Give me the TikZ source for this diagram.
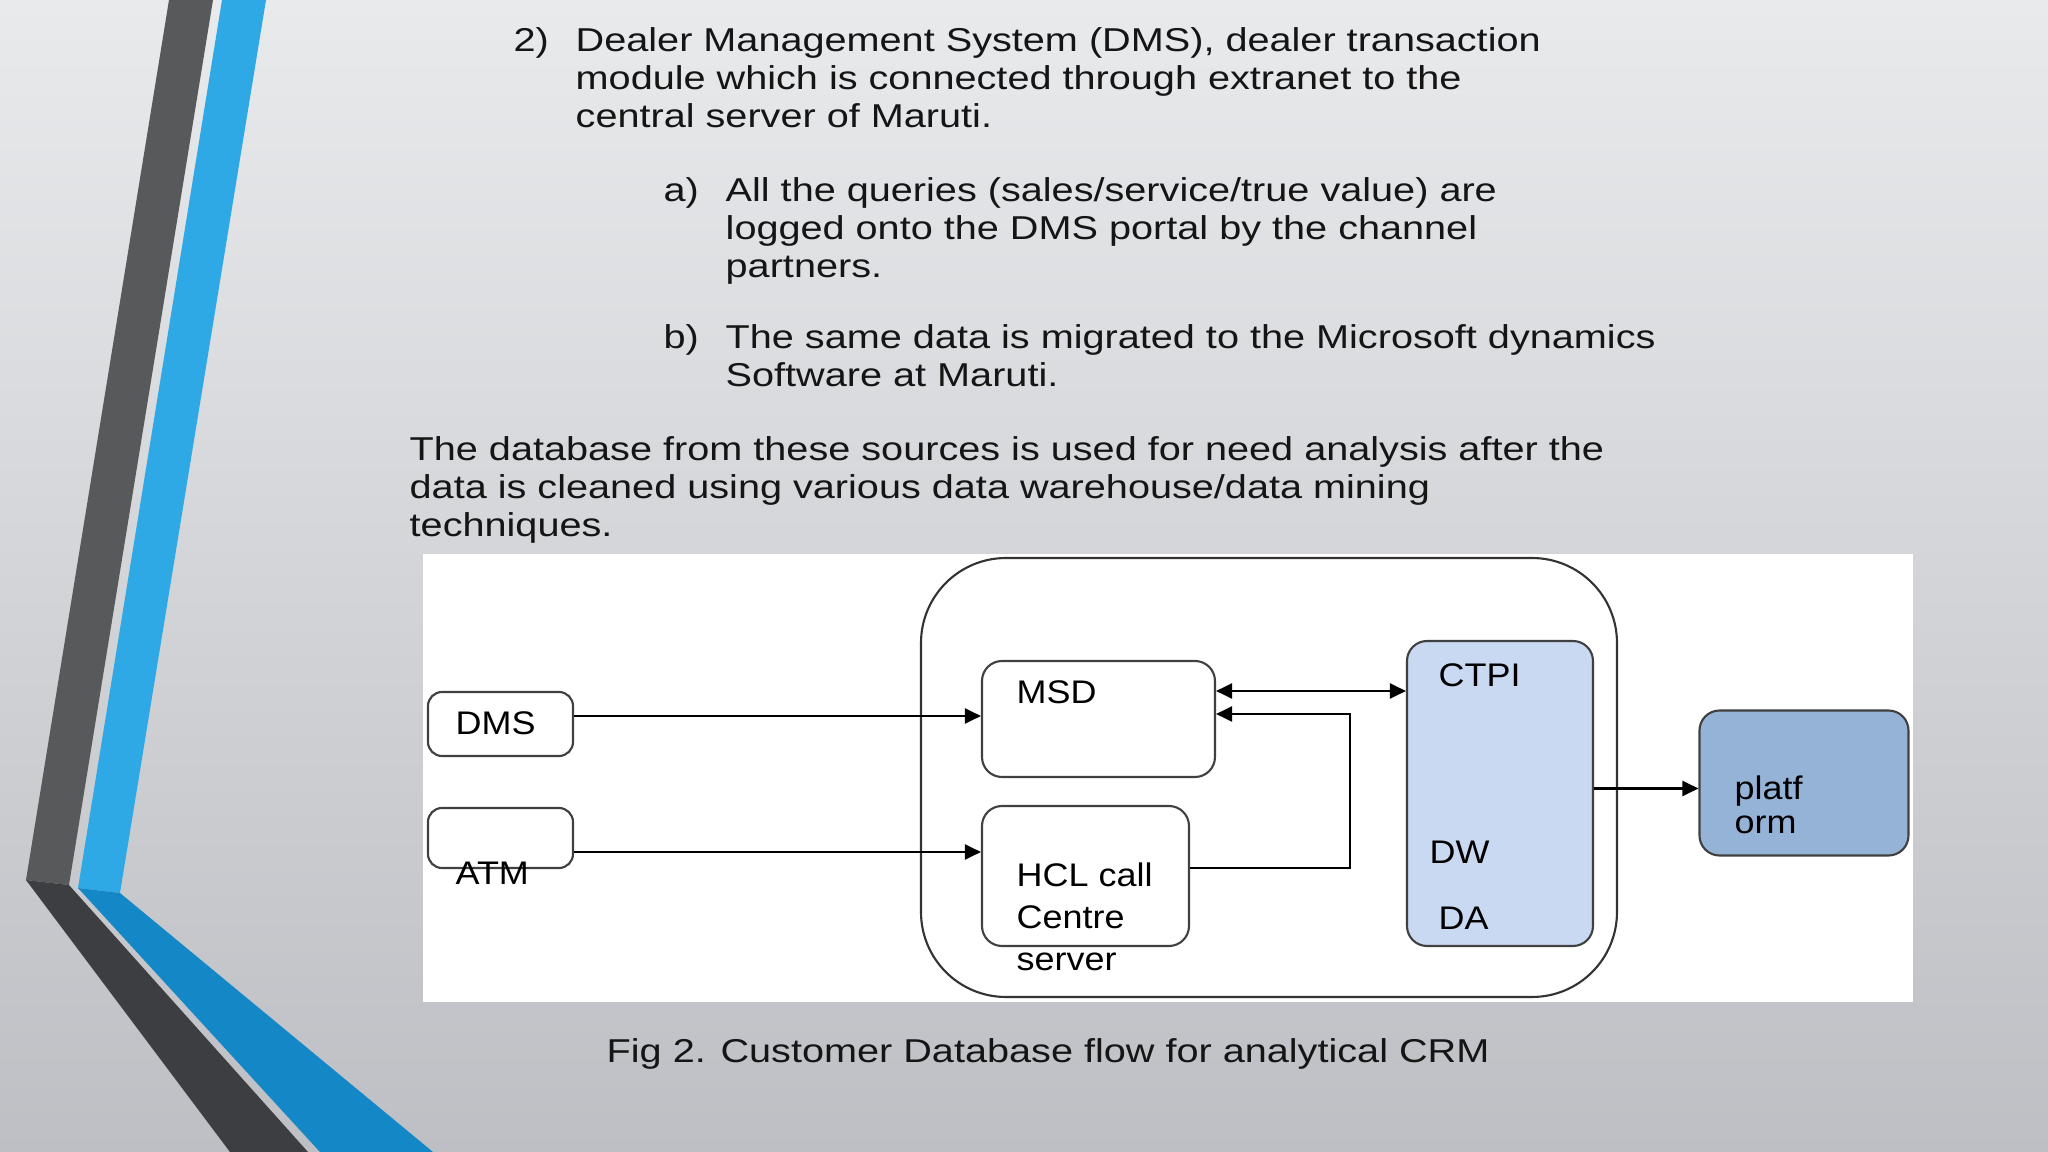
\documentclass[tikz,border=0pt]{standalone}
\usepackage{fontspec}
\setmainfont{Liberation Sans}
\newfontfamily\bodyfont{Liberation Sans}[FakeStretch=1.2]
\newfontfamily\diagfont{Liberation Sans}[FakeStretch=1.1]
\usetikzlibrary{arrows.meta,calc}

\definecolor{bgtop}{HTML}{E8EAEC}
\definecolor{bgmid}{HTML}{D9DBDE}
\definecolor{bgbot}{HTML}{BDBFC4}
\definecolor{stripegray}{HTML}{58595B}
\definecolor{stripegraydk}{HTML}{3D3E41}
\definecolor{stripeblue}{HTML}{2EA9E6}
\definecolor{stripebluedk}{HTML}{1487C6}
\definecolor{ctpifill}{HTML}{C9D9F1}
\definecolor{platfill}{HTML}{95B3D7}
\definecolor{inkcol}{HTML}{151515}

\begin{document}
\begin{tikzpicture}[
    % multi-line nodes sit on the baseline of their last line
    body/.style={anchor=base west, inner sep=0pt, align=left, text=inkcol,
                 font=\bodyfont\fontsize{9.4}{10.9}\selectfont},
    lbl/.style={anchor=base west, inner sep=0pt, align=left, text=black,
                font=\diagfont\fontsize{9.3}{11.9}\selectfont},
    src/.style={draw=black!75, line width=0.6pt, rounded corners=0.14cm,
                fill=white, inner sep=0pt},
    proc/.style={src, rounded corners=0.2cm},
    store/.style={proc, fill=ctpifill},
    outbox/.style={proc, fill=platfill},
    group/.style={draw=black!80, line width=0.6pt, rounded corners=0.85cm,
                  inner sep=0pt},
    arrow/.style={-{Triangle[length=1.6mm, width=1.5mm]}, line width=0.6pt},
    both/.style={{Triangle[length=1.6mm, width=1.5mm]}-{Triangle[length=1.6mm, width=1.5mm]},
                 line width=0.6pt},
  ]
  % slide background and side stripes
  \shade[top color=bgtop, middle color=bgmid, bottom color=bgbot]
    (0,0) rectangle (20.48,-11.52);
  \useasboundingbox (0,0) rectangle (20.48,-11.52);
  \fill[stripegray] (1.69,0) -- (2.13,0) -- (0.69,-8.85) -- (0.26,-8.80) -- cycle;
  \fill[stripeblue] (2.22,0) -- (2.66,0) -- (1.20,-8.93) -- (0.78,-8.88) -- cycle;
  \fill[stripegraydk] (0.26,-8.80) -- (0.69,-8.85) -- (3.08,-11.52) -- (2.30,-11.52) -- cycle;
  \fill[stripebluedk] (0.78,-8.88) -- (1.20,-8.93) -- (4.33,-11.52) -- (3.20,-11.52) -- cycle;

  % slide text
  \node[body] (n2) at (5.13,-0.52) {2)};
  \node[body] (t2) at (5.75,-1.28) {Dealer Management System (DMS), dealer transaction\\
    module which is connected through extranet to the\\central server of Maruti.};
  \node[body] (na) at (6.63,-2.02) {a)};
  \node[body] (ta) at (7.25,-2.78) {All the queries (sales/service/true value) are\\
    logged onto the DMS portal by the channel\\partners.};
  \node[body] (nb) at (6.63,-3.49) {b)};
  \node[body] (tb) at (7.25,-3.87) {The same data is migrated to the Microsoft dynamics\\
    Software at Maruti.};
  \node[body] (para) at (4.09,-5.37) {The database from these sources is used for need analysis after the\\
    data is cleaned using various data warehouse/data mining\\techniques.};

  % figure panel
  \fill[white] (4.23,-5.54) rectangle (19.13,-10.02);
  \node[group, minimum width=6.96cm, minimum height=4.39cm] (crm) at (12.69,-7.775) {};

  \node[src, minimum width=1.45cm, minimum height=0.64cm] (dms) at (5.005,-7.24) {};
  \node[src, minimum width=1.45cm, minimum height=0.60cm] (atm) at (5.005,-8.38) {};
  \node[proc, minimum width=2.33cm, minimum height=1.16cm] (msd) at (10.985,-7.19) {};
  \node[proc, minimum width=2.07cm, minimum height=1.40cm] (hcl) at (10.855,-8.76) {};
  \node[store, minimum width=1.86cm, minimum height=3.05cm] (ctpi) at (15.00,-7.935) {};
  \node[outbox, minimum width=2.09cm, minimum height=1.45cm] (plat) at (18.04,-7.83) {};

  \node[lbl] (dmstxt) at (4.55,-7.35) {DMS};
  \node[lbl] (atmtxt) at (4.55,-8.84) {ATM};
  \node[lbl] (msdtxt) at (10.16,-7.04) {MSD};
  \node[lbl] (hcltxt) at (10.16,-9.70) {HCL call\\Centre\\server};
  \node[lbl] (ctpitxt) at (14.38,-6.87) {CTPI};
  \node[lbl] (dwtxt) at (14.29,-8.63) {DW};
  \node[lbl] (datxt) at (14.38,-9.29) {DA};
  \node[lbl] (plattxt) at (17.34,-8.34) {platf\\[-2pt]orm};

  \coordinate (bend) at (13.50,-7.14);
  \draw[arrow] ([yshift=0.08cm]dms.east) -- ([yshift=0.08cm]dms.east -| msd.west);
  \draw[arrow] ([yshift=-0.14cm]atm.east) -- ([yshift=-0.14cm]atm.east -| hcl.west);
  \draw[both] ([yshift=0.28cm]msd.east) -- ([yshift=0.28cm]msd.east -| ctpi.west);
  \draw[arrow] ([yshift=0.08cm]hcl.east) -| (bend) -- (bend -| msd.east);
  \draw[arrow] ([yshift=0.05cm]ctpi.east) -- ([yshift=0.05cm]ctpi.east -| plat.west);

  \node[body] (cap) at (6.06,-10.62) {Fig 2. Customer Database flow for analytical CRM};
\end{tikzpicture}
\end{document}
